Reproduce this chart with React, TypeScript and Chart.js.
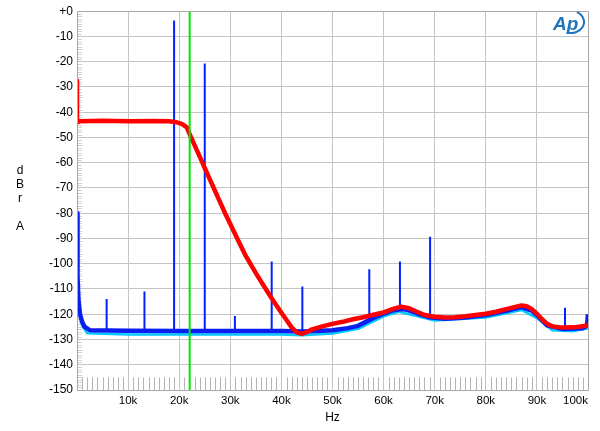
import React, { useEffect, useRef } from 'react';
import { Chart, registerables } from 'chart.js';
Chart.register(...registerables);

const FONT = '"Liberation Sans", Arial, sans-serif';

// Red trace (Hz, dBrA)
const redHz = [0, 0, 500, 5000, 10000, 15000, 18000, 19500, 20500, 21500, 22000, 22500, 23000, 24000, 25000, 26000, 27000, 28000, 29000, 30000, 31000, 32000, 33000, 34000, 35000, 36000, 37000, 38000, 39000, 40000, 41000, 42000, 43000, 44000, 45000, 46000, 48000, 50000, 52000, 54000, 56000, 58000, 60000, 62000, 63500, 65000, 66500, 68000, 70000, 72000, 74000, 76000, 78000, 80000, 82000, 84000, 86000, 87000, 88000, 89000, 90000, 91000, 92000, 93000, 95000, 97000, 99000, 100000];
const redDb = [-27.5, -44, -43.6, -43.4, -43.6, -43.5, -43.6, -44, -44.6, -46, -48.5, -50.7, -53, -57.5, -62.1, -66.6, -71.1, -75.6, -80.1, -84.3, -88.5, -92.7, -96.8, -100.3, -103.7, -107, -110.2, -113.4, -116.4, -119.4, -122.3, -125.2, -127.2, -127.8, -127, -126, -124.8, -123.8, -123, -122, -121.2, -120.2, -119.3, -117.8, -117, -117.6, -119, -120.3, -121, -121.3, -121.2, -120.8, -120.3, -119.8, -119, -118, -117, -116.5, -116.8, -118, -119.8, -122, -123.8, -124.8, -125.3, -125.2, -124.8, -124.2];

// Blue noise floor (Hz, dBrA)
const blueHz = [0, 100, 300, 600, 1000, 1500, 2500, 10000, 20000, 30000, 40000, 44000, 48000, 50000, 53000, 55000, 58000, 60000, 62000, 63500, 64500, 66500, 69000, 72000, 76000, 80000, 84000, 87000, 89000, 90000, 92000, 95000, 99000, 99800, 100000];
const blueDb = [-80, -105, -115, -120, -123, -125, -126.3, -126.5, -126.6, -126.6, -126.6, -126.8, -126.5, -126.3, -125.5, -124.6, -121.5, -119.8, -118.4, -117.9, -118.2, -119.6, -121.2, -121.8, -121.3, -120.3, -118.6, -117.2, -118.6, -120.3, -124.4, -125.8, -125.5, -124.5, -120];

// Cyan (second channel floor)
const cyanHz = [300, 1000, 2000, 10000, 20000, 30000, 40000, 44000, 50000, 55000, 60000, 63000, 66000, 70000, 80000, 87000, 90000, 93000, 97000, 100000];
const cyanDb = [-118, -124.5, -127.5, -128, -128, -128, -128, -128.3, -127.6, -125.8, -120.8, -119, -120.5, -122.5, -121.3, -118.3, -121.5, -126.3, -126.7, -125.5];

// Blue spectral lines (Hz, peak dBrA, base dBrA)
const spikeHz = [5800, 13200, 19000, 25000, 30900, 38100, 44100, 57200, 63200, 69100, 95500];
const spikePeakDb = [-114, -111, -3.7, -20.7, -120.7, -99.1, -109, -102.2, -99.1, -89.3, -117.4];
const spikeBaseDb = [-126.5, -126.5, -126.5, -126.5, -126.5, -126.5, -126.8, -122.4, -118, -121.2, -125.8];

// Green marker (Hz)
const markerHz = 22050;

const xTickHz = [10000, 20000, 30000, 40000, 50000, 60000, 70000, 80000, 90000, 100000];
const xTickLabels = ['10k', '20k', '30k', '40k', '50k', '60k', '70k', '80k', '90k', '100k'];
const yTitleLines = ['d', 'B', 'r', '', 'A'];

export default function App() {
  const ref = useRef<HTMLCanvasElement>(null);
  useEffect(() => {
    document.body.style.margin = '0';
    const canvas = ref.current!;
    const spikeData: any[] = [];
    spikeHz.forEach((x, i) => {
      spikeData.push({ x, y: spikeBaseDb[i] }, { x, y: spikePeakDb[i] }, { x, y: null });
    });
    const decor = {
      id: 'decor',
      beforeDatasetsDraw(chart: any) {
        const { ctx, chartArea: a, scales } = chart;
        const xs = scales.x, ys = scales.y;
        ctx.save();
        ctx.lineWidth = 1;
        ctx.strokeStyle = '#d2d2d2';
        for (let v = -149; v < 0; v++) {
          if (v % 10 === 0) continue;
          const y = Math.round(ys.getPixelForValue(v)) + 0.5;
          ctx.beginPath(); ctx.moveTo(a.left, y); ctx.lineTo(a.left + 5, y); ctx.stroke();
        }
        ctx.strokeStyle = '#b4b4b4';
        const yb = ys.getPixelForValue(-145);
        for (let v = 1000; v < 100000; v += 1000) {
          if (v % 10000 === 0) continue;
          const x = Math.round(xs.getPixelForValue(v)) + 0.5;
          ctx.beginPath(); ctx.moveTo(x, a.bottom); ctx.lineTo(x, yb); ctx.stroke();
        }
        ctx.restore();
      },
      afterDraw(chart: any) {
        const { ctx, chartArea: a, scales } = chart;
        const xs = scales.x;
        ctx.save();
        ctx.strokeStyle = '#a8a8a8';
        ctx.lineWidth = 1;
        ctx.strokeRect(Math.round(a.left) + 0.5, Math.round(a.top) + 0.5, Math.round(a.right - a.left), Math.round(a.bottom - a.top));
        ctx.fillStyle = '#000';
        ctx.font = '11.5px ' + FONT;
        ctx.textBaseline = 'middle';
        xTickHz.forEach((v, i) => {
          const px = xs.getPixelForValue(v);
          if (i === xTickHz.length - 1) { ctx.textAlign = 'right'; ctx.fillText(xTickLabels[i], px, 401); }
          else { ctx.textAlign = 'center'; ctx.fillText(xTickLabels[i], px, 401); }
        });
        ctx.font = '12px ' + FONT;
        ctx.textAlign = 'center';
        yTitleLines.forEach((t, i) => ctx.fillText(t, 20, 171 + i * 14));
        // AP logo
        ctx.fillStyle = '#1f74bd';
        ctx.font = 'italic bold 19px ' + FONT;
        ctx.textAlign = 'left';
        ctx.textBaseline = 'alphabetic';
        ctx.fillText('Ap', 553, 30);
        ctx.strokeStyle = '#1f74bd';
        ctx.lineWidth = 2;
        ctx.beginPath();
        ctx.ellipse(571, 22, 13, 11, 0, -1.1, 1.9);
        ctx.stroke();
        ctx.restore();
      },
    };
    const chart = new Chart(canvas, {
      type: 'line',
      data: {
        datasets: [
          {
            label: 'marker', data: [{ x: markerHz, y: 0 }, { x: markerHz, y: -150 }],
            borderColor: '#00e600', borderWidth: 2, order: 0,
          },
          {
            label: 'red', data: redHz.map((x, i) => ({ x, y: redDb[i] })),
            borderColor: '#ff0000', borderWidth: 4.5, order: 1,
          },
          {
            label: 'spikes', data: spikeData,
            borderColor: '#0022ff', borderWidth: 2, order: 2, spanGaps: false,
          },
          {
            label: 'blue', data: blueHz.map((x, i) => ({ x, y: blueDb[i] })),
            borderColor: '#0a1ef0', borderWidth: 4.5, order: 3,
          },
          {
            label: 'cyan', data: cyanHz.map((x, i) => ({ x, y: cyanDb[i] })),
            borderColor: '#00c8ff', borderWidth: 2.5, order: 4,
          },
        ] as any,
      },
      options: {
        animation: false,
        responsive: true,
        maintainAspectRatio: false,
        parsing: false as any,
        elements: { point: { radius: 0 }, line: { tension: 0, borderJoinStyle: 'round' as any } },
        layout: { padding: { left: 0, right: 12, top: 7, bottom: 0 } },
        plugins: { legend: { display: false }, tooltip: { enabled: false } },
        scales: {
          x: {
            type: 'linear', min: 0, max: 100000,
            afterFit: (s: any) => { s.height = 41; },
            border: { display: false },
            grid: { color: '#c4c4c4', drawTicks: false },
            ticks: { display: false, stepSize: 10000 },
            title: { display: true, text: 'Hz', color: '#000', font: { family: FONT, size: 12 }, padding: { top: 0, bottom: 6 } },
          },
          y: {
            type: 'linear', min: -150, max: 0,
            afterFit: (s: any) => { s.width = 77; },
            border: { display: false },
            grid: { color: '#c4c4c4', drawTicks: false },
            ticks: {
              stepSize: 10, color: '#000', padding: 4,
              font: { family: FONT, size: 12 },
              callback: (v: any) => (v === 0 ? '+0' : String(v)),
            },
          },
        },
      } as any,
      plugins: [decor],
    });
    return () => chart.destroy();
  }, []);
  return (
    <div style={{ position: 'relative', width: 600, height: 431 }}>
      <canvas ref={ref} />
    </div>
  );
}
